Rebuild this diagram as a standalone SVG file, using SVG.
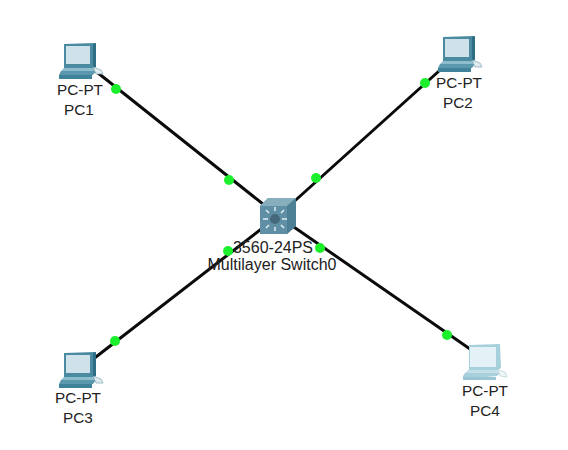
<svg xmlns="http://www.w3.org/2000/svg" width="568" height="450" viewBox="0 0 568 450">
<style>
.bg{fill:#fff}
.link{stroke:#0b0b0b;stroke-width:3;stroke-linecap:round;fill:none}
.dot{fill:#1cf02c}
text{font-family:"Liberation Sans",Arial,sans-serif;font-size:15.300px;fill:#222;text-anchor:middle}
.sw{font-size:16px}
</style>
<defs>
<g id="pc">
<path d="M6 2 L37 1 L38 2 L37 26 L6 26 Z" fill="#4a8ba2"/>
<path d="M35 2 L38 1 L38 25 L35 27 Z" fill="#2f6f86"/>
<rect x="8" y="4" width="24" height="18" fill="#cfe2ea"/>
<path d="M6 26 L35 26 L38 29 L3 29 Z" fill="#8dbccc"/>
<path d="M3 29 L38 29 L35 33 L1 36 L1 33 Z" fill="#5b98ad"/>
<rect x="1" y="33" width="33" height="4" fill="#3f8299"/>
<path d="M35 25 L43 28 L45 32 L38 32 Z" fill="#dfeaef" stroke="#7fa7b5" stroke-width=".7"/>
</g>
<g id="pc-light">
<path d="M7 2 L38 1 L39 25 L36 27 L7 27 Z" fill="#a6d0dc"/>
<rect x="8" y="4" width="26" height="20" fill="#e4f1f6"/>
<path d="M6 27 L35 27 L38 30 L3 30 Z" fill="#c4dfe8"/>
<path d="M3 30 L38 30 L35 33 L1 36 L1 33 Z" fill="#a8d0dc"/>
<rect x="1" y="34" width="33" height="3" fill="#9ac6d3"/>
<path d="M36 27 L43 29 L45 34 L38 33 Z" fill="#eef5f7" stroke="#b4d2dc" stroke-width=".7"/>
</g>
</defs>
<rect class="bg" width="568" height="450"/>
<g id="connectors">
<line class="link" x1="93" y1="69" x2="278" y2="216"/>
<line class="link" x1="449" y1="62" x2="278" y2="216"/>
<line class="link" x1="92" y1="360" x2="278" y2="216"/>
<line class="link" x1="470" y1="349" x2="278" y2="216"/>
<circle class="dot" cx="116" cy="89" r="5"/>
<circle class="dot" cx="229" cy="180" r="5"/>
<circle class="dot" cx="425" cy="83" r="5"/>
<circle class="dot" cx="316" cy="178" r="5"/>
<circle class="dot" cx="115" cy="341" r="5"/>
<circle class="dot" cx="228" cy="251" r="5"/>
<circle class="dot" cx="320" cy="248" r="5"/>
<circle class="dot" cx="447" cy="335" r="5"/>
</g>
<g id="switch">
<path d="M260 206 L268 198 L296 198 L296 226 L287 234 L260 234 Z" fill="#5f8fa5"/>
<path d="M260 206 L268 198 L296 198 L287 206 Z" fill="#86aebd"/>
<path d="M287 206 L296 198 L296 226 L287 234 Z" fill="#4d7f95"/>
<g stroke="#e2eef3" stroke-width="1.500">
<path d="M275 207 L275 211 M275 227 L275 231 M263 219 L268 219 M282 219 L287 219 M266 210 L269 213 M284 210 L281 213 M266 228 L269 225 M284 228 L281 225"/>
</g>
<circle cx="275" cy="219" r="5" fill="#45687c"/>
<text class="sw" x="273" y="253">3560-24PS</text>
<text class="sw" x="272" y="270">Multilayer Switch0</text>
</g>
<g id="pc1"><use href="#pc" x="58" y="42"/><text x="80" y="95">PC-PT</text><text x="79" y="115">PC1</text></g>
<g id="pc2"><use href="#pc" x="437" y="35"/><text x="459" y="88">PC-PT</text><text x="458" y="108">PC2</text></g>
<g id="pc3"><use href="#pc" x="58" y="351"/><text x="78" y="403">PC-PT</text><text x="78" y="423">PC3</text></g>
<g id="pc4"><use href="#pc-light" x="462" y="343"/><text x="485" y="396">PC-PT</text><text x="485" y="416">PC4</text></g>
</svg>
